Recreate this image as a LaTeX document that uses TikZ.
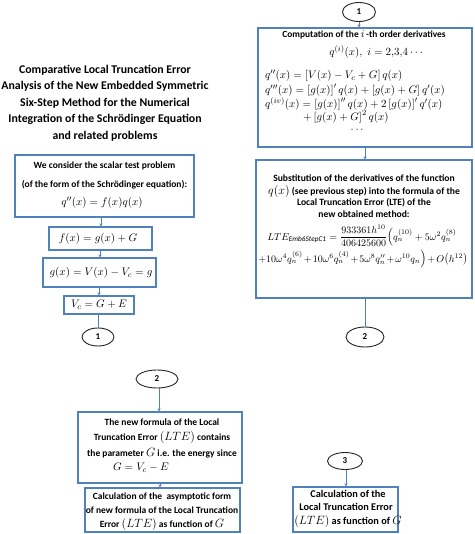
\documentclass[tikz,border=0pt]{standalone}
\usepackage{amsmath}
\usepackage{fontspec}
\setmainfont{Carlito}
\usetikzlibrary{arrows.meta,shapes.geometric}
\definecolor{bxblue}{RGB}{79,129,189}
\newcommand\myfs[1]{\fontsize{#1}{#1}\selectfont}
\begin{document}
\begin{tikzpicture}[x=1pt,y=-1pt,
  flowbox/.style={draw=bxblue, line width=1.2pt, inner sep=0pt},
  txt/.style={inner sep=0pt, font=\bfseries\myfs{#1}},
  txt/.default=9.5,
  mth/.style={inner sep=0pt, font=\myfs{#1}},
  mth/.default=11,
  ttl/.style={inner sep=0pt, align=center, font=\bfseries\fontsize{11.8}{16.6}\selectfont},
  bubble/.style={ellipse, draw=black!85, line width=0.9pt, inner sep=0pt, font=\bfseries\myfs{9}},
  conn/.style={draw=bxblue, line width=1pt, -{Stealth[length=3pt,width=3.2pt]}},
  plainconn/.style={draw=bxblue, line width=1pt}
]
\useasboundingbox[fill=white] (0,0) rectangle (474,534);

% ---------- title ----------
\node[ttl] (title) at (105,103) {Comparative Local Truncation Error\\
Analysis of the New Embedded Symmetric\\
Six-Step Method for the Numerical\\
Integration of the Schrödinger Equation\\
and related problems};

% ---------- left column ----------
\node[flowbox, minimum width=179pt, minimum height=62pt] (b1) at (104.5,186) {};
\node[txt=9.5] (b1a) at (104.5,166) {We consider the scalar test problem};
\node[txt=9.5] (b1b) at (104.5,185) {(of the form of the Schrödinger equation):};
\node[mth=11] (b1c) at (102,203) {$q''(x)=f(x)q(x)$};

\node[flowbox, minimum width=103pt, minimum height=23pt] (b2) at (100.5,238.5) {};
\node[mth=11] (b2a) at (98,239) {$f(x)=g(x)+G$};

\node[flowbox, minimum width=113pt, minimum height=29pt] (b3) at (99.5,272.5) {};
\node[mth=11.2] (b3a) at (101,273) {$g(x)=V(x)-V_c=g$};

\node[flowbox, minimum width=70pt, minimum height=18pt] (b4) at (99,305) {};
\node[mth=11] (b4a) at (99,305) {$V_c=G+E$};

\node[bubble, minimum width=32pt, minimum height=18pt] (c1l) at (98,337) {1};

\draw[conn] (b1.south -| 101,0) -- (101,0 |- b2.north);
\draw[conn] (b2.south -| 100,0) -- (100,0 |- b3.north);
\draw[conn] (b3.south -| 99,0) -- (99,0 |- b4.north);
\draw[plainconn] (b4.south -| 98,0) -- (c1l.north);

% ---------- right column ----------
\node[bubble, minimum width=33pt, minimum height=19pt] (c1r) at (359,12) {1};
\node[flowbox, minimum width=214pt, minimum height=119pt] (b5) at (365,87.5) {};
\node[txt=9.4] (b5a) at (364,35) {Computation of the \myfs{11}$i$\myfs{9.4}\,-th order derivatives};
\node[mth=11] (b5b) at (377,52) {$q^{(i)}(x),\; i=2{,}3{,}4\cdots$};
\node[mth=11, anchor=west] (b5c) at (265,76) {$q''(x)=\left[V(x)-V_c+G\right]q(x)$};
\node[mth=11.1, anchor=west] (b5d) at (265,90) {$q'''(x)=\left[g(x)\right]'q(x)+\left[g(x)+G\right]q'(x)$};
\node[mth=11.1, anchor=west] (b5e) at (265,103.5) {$q^{(iv)}(x)=\left[g(x)\right]''q(x)+2\left[g(x)\right]'q'(x)$};
\node[mth=11.1, anchor=west] (b5f) at (303,117) {$+\left[g(x)+G\right]^2q(x)$};
\node[mth=11] (b5g) at (358,130) {$\cdots$};

\node[flowbox, minimum width=216pt, minimum height=138pt] (b6) at (364,229) {};
\node[txt=9.6] (b6a) at (364,178.5) {Substitution of the derivatives of the function};
\node[txt=9.6] (b6b) at (364,191.5) {\myfs{11.5}$q(x)$\myfs{9.6}\ (see previous step) into the formula of the};
\node[txt=9.6] (b6c) at (364,203) {Local Truncation Error (LTE) of the};
\node[txt=9.6] (b6d) at (364,214) {new obtained method:};
\node[mth=10.4] (b6e) at (362,236) {$LTE_{\mathit{Emb6StepC1}}=\dfrac{933361h^{10}}{406425600}\Big(q_n^{(10)}+5\omega^2q_n^{(8)}$};
\node[mth=9.6] (b6f) at (363,259.5) {$\medmuskip=2mu plus 1mu\relax +10\omega^4q_n^{(6)}+10\omega^6q_n^{(4)}+5\omega^8q_n''+\omega^{10}q_n\Big)+O\big(h^{12}\big)$};

\node[bubble, minimum width=38pt, minimum height=20pt] (c2r) at (365,337) {2};

\draw[conn] (c1r.south) -- (c1r.south |- b5.north);
\draw[conn] (b5.south -| 365,0) -- (365,0 |- b6.north);
\draw[plainconn] (b6.south -| c2r.north) -- (c2r.north);

% ---------- bottom left ----------
\node[bubble, minimum width=42pt, minimum height=18pt] (c2l) at (157,379) {2};
\node[flowbox, minimum width=164pt, minimum height=71pt] (b7) at (160,447.5) {};
\node[txt=9.5] (b7a) at (162,422) {The new formula of the Local};
\node[txt=9.5] (b7b) at (162,437) {Truncation Error \myfs{12}$\left(LTE\right)$\myfs{9.5}\ contains};
\node[txt=9.5] (b7c) at (162,453) {the parameter \myfs{12}$G$\myfs{9.5}\ i.e. the energy since};
\node[mth=11] (b7d) at (141,468) {$G=V_c-E$};

\node[flowbox, minimum width=155pt, minimum height=44pt] (b8) at (162.5,510) {};
\node[txt=9.5] (b8a) at (162,497) {Calculation of the\ \ asymptotic form};
\node[txt=9.5] (b8b) at (162,510) {of new formula of the Local Truncation};
\node[txt=9.5] (b8c) at (162,524) {Error \myfs{12}$\left(LTE\right)$\myfs{9.5}\ as function of \myfs{12}$G$};

\draw[conn] (c2l.south -| 159,0) -- (159,0 |- b7.north);
\draw[conn] (b7.south -| 160,0) -- (160,0 |- b8.north);

% ---------- bottom right ----------
\node[bubble, minimum width=35pt, minimum height=17pt] (c3) at (345,461) {3};
\node[flowbox, minimum width=105pt, minimum height=45pt] (b9) at (345.5,509.5) {};
\node[txt=10.3] (b9a) at (348,494) {Calculation of the};
\node[txt=10.3] (b9b) at (346,506.5) {Local Truncation Error};
\node[txt=10.3] (b9c) at (348,521) {\myfs{12}$\left(LTE\right)$\myfs{10.3}\ as function of \myfs{12}$G$};

\draw[conn] (c3.south -| 346,0) -- (346,0 |- b9.north);
\end{tikzpicture}
\end{document}
